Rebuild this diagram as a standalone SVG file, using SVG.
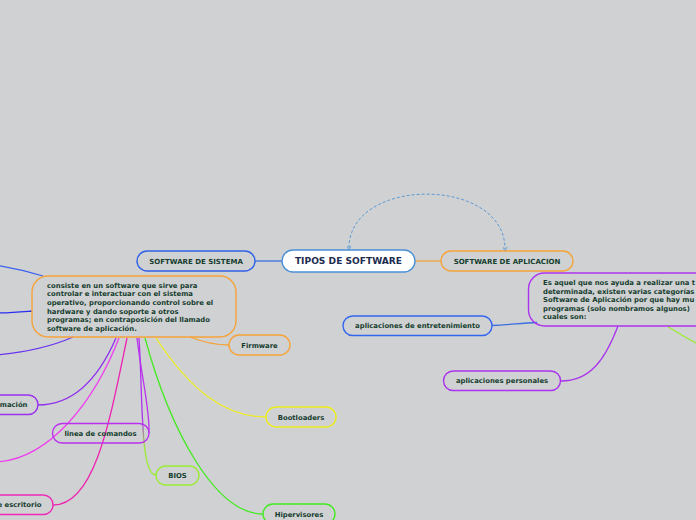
<svg xmlns="http://www.w3.org/2000/svg" width="696" height="520" viewBox="0 0 696 520">
<style>
  .bg{fill:#d0d1d3}
  .n{fill:none;stroke-width:1.4}
  .t{font-family:"DejaVu Sans","Liberation Sans",sans-serif;font-weight:bold;font-size:6.85px;fill:#153d2e;text-anchor:middle}
  .d{font-family:"DejaVu Sans","Liberation Sans",sans-serif;font-weight:bold;font-size:6.85px;fill:#153d2e}
  .c{fill:none;stroke-width:1.3}
</style>
<defs>
  <marker id="ah" viewBox="0 0 6 6" refX="3" refY="3" markerWidth="5" markerHeight="5" orient="auto-start-reverse" markerUnits="userSpaceOnUse">
    <path d="M0.5,0.5 L5.5,3 L0.5,5.5" fill="none" stroke="#5b9bd5" stroke-width="1"/>
  </marker>
  <linearGradient id="gb" gradientUnits="userSpaceOnUse" x1="0" y1="338" x2="0" y2="475">
    <stop offset="0" stop-color="#b030ee"/>
    <stop offset="0.6" stop-color="#b030ee"/>
    <stop offset="0.8" stop-color="#99ec33"/>
    <stop offset="1" stop-color="#99ec33"/>
  </linearGradient>
</defs>
<rect class="bg" x="0" y="0" width="696" height="520"/>
<g id="connectors">
  <path class="c" d="M255,261 L282,261" stroke="#3a6fe0"/>
  <path class="c" d="M415,261 L441,261" stroke="#f5a33a"/>
  <path d="M349,248 C349,176 505,176 505,249" fill="none" stroke="#5b9bd5" stroke-width="1" stroke-dasharray="3,2" marker-start="url(#ah)" marker-end="url(#ah)"/>
  <path class="c" d="M43,276 C30,272 15,268 -5,265" stroke="#3a5ff0"/>
  <path class="c" d="M32,311 C20,312 10,313 -5,313" stroke="#2a2ff0"/>
  <path class="c" d="M73,337 C55,345 30,352 -5,355" stroke="#6a35ee"/>
  <path class="c" d="M116,338 C100,375 75,405 38,405" stroke="#9030ee"/>
  <path class="c" d="M119,338 C95,400 50,460 -5,462" stroke="#ee40ee"/>
  <path class="c" d="M127,338 C110,420 95,505 53,505" stroke="#ee22b0"/>
  <path class="c" d="M137,338 C142,380 150,410 149,433" stroke="#bb33ee"/>
  <path class="c" d="M139,338 C143,400 140,475 156,475" stroke="url(#gb)"/>
  <path class="c" d="M145,338 C170,430 215,514 263,514" stroke="#44ea22"/>
  <path class="c" d="M156,338 C190,390 225,417 266,417" stroke="#eeee22"/>
  <path class="c" d="M190,337 C205,343 215,345 229,345" stroke="#f5a33a"/>
  <path class="c" d="M492,325.5 C510,325 520,323 537,322.5" stroke="#3a6fe0"/>
  <path class="c" d="M561,381 C590,381 605,360 618,326" stroke="#aa33ee"/>
  <path class="c" d="M667,326 C678,333 688,339 700,345" stroke="#99ec33"/>
</g>
<g id="tipos">
  <rect x="282" y="250" width="133" height="22" rx="11" fill="#ffffff" stroke="#4a8fd6" stroke-width="1.4"/>
  <text class="t" x="348.5" y="264.3" style="font-size:9.1px;fill:#1c2d4f">TIPOS DE SOFTWARE</text>
</g>
<g id="sistema">
  <rect class="n" x="137" y="251" width="118" height="20" rx="10" stroke="#2f62e8"/>
  <text class="t" x="196" y="263.5" style="font-size:7px">SOFTWARE DE SISTEMA</text>
</g>
<g id="aplicacion">
  <rect class="n" x="441" y="251" width="132" height="20" rx="10" stroke="#f5a33a"/>
  <text class="t" x="507" y="263.5" style="font-size:7px">SOFTWARE DE APLICACION</text>
</g>
<g id="sistema-desc">
  <rect class="n" x="32" y="276" width="204" height="61" rx="16" stroke="#f5a33a"/>
  <text class="d" x="47" y="287.5">consiste en un software que sirve para</text>
  <text class="d" x="47" y="296.2">controlar e interactuar con el sistema</text>
  <text class="d" x="47" y="304.9">operativo, proporcionando control sobre el</text>
  <text class="d" x="47" y="313.6">hardware y dando soporte a otros</text>
  <text class="d" x="47" y="322.3">programas; en contraposición del llamado</text>
  <text class="d" x="47" y="331">software de aplicación.</text>
</g>
<g id="firmware">
  <rect class="n" x="229" y="335" width="61" height="20" rx="10" stroke="#f5a33a"/>
  <text class="t" x="259.5" y="347.5">Firmware</text>
</g>
<g id="bootloaders">
  <rect class="n" x="266" y="407" width="70" height="20" rx="10" stroke="#eded1f"/>
  <text class="t" x="301" y="419.5">Bootloaders</text>
</g>
<g id="bios">
  <rect class="n" x="156" y="466" width="43" height="19" rx="9.5" stroke="#99ec33"/>
  <text class="t" x="177.5" y="478">BIOS</text>
</g>
<g id="hipervisores">
  <rect class="n" x="263" y="504" width="72" height="20" rx="10" stroke="#44ea22"/>
  <text class="t" x="299" y="516.5">Hipervisores</text>
</g>
<g id="linea-comandos">
  <rect class="n" x="52.5" y="423.5" width="96.5" height="19.5" rx="9.75" stroke="#bb30ee"/>
  <text class="t" x="100.5" y="435.7">linea de comandos</text>
</g>
<g id="programacion">
  <rect class="n" x="-60" y="395" width="98" height="19.5" rx="9.75" stroke="#9b30ee"/>
  <text class="t" x="27.5" y="407.2" style="text-anchor:end">mación</text>
</g>
<g id="escritorio">
  <rect class="n" x="-60" y="495" width="113" height="19.5" rx="9.75" stroke="#ee2ab8"/>
  <text class="t" x="41.5" y="507.2" style="text-anchor:end">e escritorio</text>
</g>
<g id="entretenimiento">
  <rect class="n" x="343" y="316" width="149" height="19.5" rx="9.75" stroke="#3366ee"/>
  <text class="t" x="417.5" y="328.2">aplicaciones de entretenimiento</text>
</g>
<g id="personales">
  <rect class="n" x="443.5" y="371" width="117" height="19.5" rx="9.75" stroke="#aa33ee"/>
  <text class="t" x="502" y="383.2">aplicaciones personales</text>
</g>
<g id="aplicacion-desc">
  <rect class="n" x="528.5" y="273" width="200" height="53" rx="16" stroke="#aa33ee"/>
  <text class="d" x="543" y="285.4">Es aquel que nos ayuda a realizar una t</text>
  <text class="d" x="543" y="293.9">determinada, existen varias categorías</text>
  <text class="d" x="543" y="302.2">Software de Aplicación por que hay mu</text>
  <text class="d" x="543" y="310.9">programas (solo nombramos algunos)</text>
  <text class="d" x="543" y="319.3">cuales son:</text>
</g>
</svg>
